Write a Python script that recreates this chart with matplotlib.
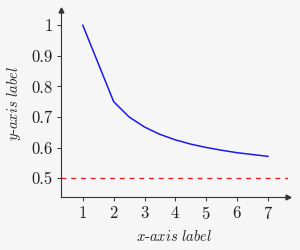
import matplotlib
matplotlib.use("Agg")
import matplotlib.pyplot as plt

# values
x_vals = [1, 1.5, 2, 2.5, 3, 3.5, 4, 4.5, 5, 5.5, 6, 6.5, 7]
y_vals = [1.0, 0.875, 0.75, 0.70, 0.667, 0.643, 0.625, 0.611, 0.60, 0.591, 0.583, 0.577, 0.571]
ref_level = 0.5
x_ticks = [1, 2, 3, 4, 5, 6, 7]
y_ticks = [0.5, 0.6, 0.7, 0.8, 0.9, 1.0]
y_ticklabels = ["0.5", "0.6", "0.7", "0.8", "0.9", "1"]

plt.rcParams['font.family'] = 'cmr10'
plt.rcParams['mathtext.fontset'] = 'cm'
plt.rcParams['axes.formatter.use_mathtext'] = True

bg = '#f6f6f6'
fig = plt.figure(figsize=(3, 2.5), dpi=100, facecolor=bg)
ax = fig.add_axes([0.203, 0.212, 0.757, 0.748])
ax.set_facecolor(bg)

ax.plot(x_vals, y_vals, color='#1a1aee', lw=1.1)
ax.axhline(ref_level, color='#e8202a', lw=1.0, ls=(0, (3.5, 3.5)))

ax.set_xlim(0.29, 7.65)
ax.set_ylim(0.438, 1.05)
ax.set_xticks(x_ticks)
ax.set_yticks(y_ticks)
ax.set_yticklabels(y_ticklabels)

for side in ['top', 'right']:
    ax.spines[side].set_visible(False)
for side in ['left', 'bottom']:
    ax.spines[side].set_color('#333333')
    ax.spines[side].set_linewidth(0.8)
ax.tick_params(direction='out', length=3, width=0.7, color='#333333',
               labelsize=12, labelcolor='#222222', pad=3)

# arrow heads at the axis ends
ax.plot(1, 0, '>', color='#333333', ms=3.5, transform=ax.transAxes, clip_on=False)
ax.plot(0, 1, '^', color='#333333', ms=3.5, transform=ax.transAxes, clip_on=False)

ax.set_xlabel(r'$\mathit{x}$-$\mathit{axis\ label}$', fontsize=10.5, color='#222222', labelpad=5)
ax.set_ylabel(r'$\mathit{y}$-$\mathit{axis\ label}$', fontsize=10.5, color='#222222', labelpad=6)

fig.savefig('out.png', dpi=100, facecolor=bg)
